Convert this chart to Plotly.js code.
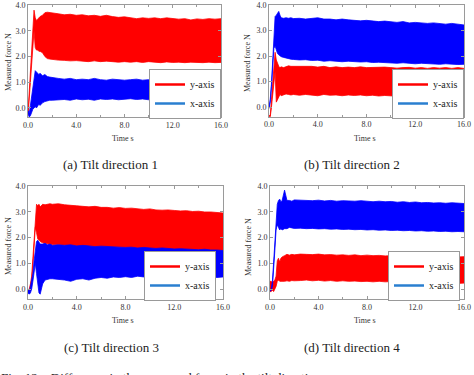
<!DOCTYPE html>
<html>
<head>
<meta charset="utf-8">
<script src="https://cdn.plot.ly/plotly-3.0.1.min.js"></script>
<style>html,body{margin:0;padding:0;background:#fff;}#chart{width:474px;height:375px;}</style>
</head>
<body>
<div id="chart"></div>
<script>
// Time grid (s)
const T = [0,0.1,0.2,0.3,0.4,0.5,0.6,0.7,0.8,0.9,1.0,1.2,1.4,1.6,1.8,2.0,
  2.5,3.0,3.5,4.0,4.5,5.0,5.5,6.0,6.5,7.0,7.5,8.0,8.5,9.0,9.5,10.0,10.5,11.0,11.5,12.0,12.5,13.0,13.5,14.0,14.5,15.0,15.5,16.0];

// Envelope (upper / lower) of the measured force, N
// (a) Tilt direction 1
const aRedHi = [-0.2,0.6,1.4,2.2,3.0,3.8,3.5,3.4,3.45,3.5,3.55,3.6,3.7,3.72,3.7,3.68,
  3.66,3.62,3.64,3.6,3.62,3.58,3.6,3.56,3.6,3.55,3.52,3.54,3.5,3.47,3.5,3.48,3.5,3.47,3.5,3.48,3.45,3.47,3.42,3.46,3.44,3.47,3.45,3.47];
const aRedLo = [-0.3,0.4,1.2,2.0,2.7,3.0,2.35,2.25,2.25,2.2,2.2,2.15,2.0,1.92,1.9,1.88,
  1.86,1.85,1.83,1.84,1.82,1.8,1.83,1.8,1.82,1.8,1.78,1.8,1.78,1.8,1.77,1.8,1.78,1.76,1.79,1.77,1.78,1.76,1.78,1.77,1.76,1.78,1.76,1.77];
const aBlueHi = [-0.1,-0.2,0.1,0.5,0.9,1.2,1.45,1.4,1.35,1.3,1.35,1.25,1.3,1.22,1.2,1.18,
  1.15,1.12,1.15,1.1,1.12,1.1,1.15,1.1,1.08,1.12,1.1,1.08,1.1,1.12,1.08,1.1,1.05,1.1,1.08,1.05,1.08,1.05,1.1,1.05,1.08,1.05,1.05,1.08];
const aBlueLo = [-0.2,-0.35,-0.3,-0.15,-0.05,0.0,0.05,0.0,0.1,0.15,0.1,0.2,0.25,0.28,0.3,0.3,
  0.32,0.33,0.3,0.35,0.32,0.34,0.3,0.35,0.33,0.35,0.32,0.34,0.36,0.33,0.35,0.32,0.34,0.36,0.33,0.35,0.3,0.34,0.32,0.35,0.33,0.3,0.34,0.32];
// (b) Tilt direction 2
const bRedHi = [-0.3,-0.35,0.3,1.0,1.7,2.15,1.85,1.7,1.6,1.55,1.58,1.55,1.6,1.62,1.6,1.6,
  1.6,1.58,1.6,1.57,1.6,1.55,1.58,1.55,1.57,1.55,1.58,1.55,1.56,1.55,1.57,1.55,1.53,1.55,1.56,1.53,1.55,1.52,1.55,1.53,1.55,1.52,1.55,1.52];
const bRedLo = [-0.35,-0.38,0.0,0.5,1.0,1.4,0.2,0.3,0.45,0.5,0.45,0.5,0.52,0.5,0.48,0.5,
  0.47,0.5,0.48,0.45,0.5,0.47,0.48,0.45,0.48,0.46,0.48,0.45,0.47,0.44,0.46,0.45,0.43,0.46,0.44,0.45,0.42,0.44,0.43,0.45,0.42,0.43,0.41,0.42];
const bBlueHi = [0.0,0.3,0.9,1.8,2.7,3.55,3.6,3.7,3.75,3.6,3.5,3.48,3.5,3.48,3.5,3.47,
  3.48,3.45,3.48,3.5,3.45,3.45,3.42,3.45,3.42,3.4,3.38,3.4,3.38,3.35,3.37,3.35,3.32,3.35,3.3,3.32,3.3,3.28,3.3,3.27,3.25,3.28,3.25,3.22];
const bBlueLo = [-0.05,0.2,0.8,1.6,2.3,2.4,2.2,2.1,2.05,2.0,1.98,1.95,1.92,1.9,1.88,1.87,
  1.85,1.86,1.83,1.84,1.8,1.82,1.8,1.78,1.8,1.78,1.77,1.78,1.75,1.76,1.75,1.74,1.72,1.74,1.72,1.7,1.72,1.7,1.7,1.68,1.7,1.68,1.67,1.68];
// (c) Tilt direction 3
const cRedHi = [-0.1,0.0,0.2,0.5,1.2,2.0,2.8,3.3,3.25,3.3,3.2,3.3,3.28,3.3,3.32,3.3,
  3.32,3.28,3.25,3.24,3.22,3.2,3.22,3.18,3.18,3.15,3.17,3.14,3.15,3.12,3.1,3.12,3.08,3.07,3.08,3.06,3.04,3.05,3.02,3.03,3.0,3.0,2.98,2.96];
const cRedLo = [-0.15,-0.1,0.0,0.3,0.9,1.7,2.4,2.2,1.95,1.9,1.85,1.8,1.78,1.75,1.75,1.72,
  1.72,1.7,1.7,1.68,1.68,1.66,1.65,1.65,1.64,1.63,1.62,1.62,1.6,1.6,1.59,1.58,1.58,1.57,1.56,1.56,1.55,1.54,1.54,1.53,1.52,1.52,1.5,1.5];
const cBlueHi = [0.0,-0.1,0.1,0.3,0.6,1.1,1.6,1.85,1.9,1.8,1.75,1.75,1.78,1.72,1.75,1.7,
  1.72,1.7,1.72,1.68,1.7,1.68,1.65,1.67,1.65,1.65,1.63,1.62,1.63,1.6,1.62,1.6,1.58,1.6,1.57,1.56,1.57,1.55,1.55,1.53,1.55,1.52,1.52,1.5];
const cBlueLo = [-0.15,-0.2,-0.15,0.0,0.3,0.7,1.0,0.6,0.2,-0.15,-0.2,0.2,0.35,0.38,0.4,0.4,
  0.38,0.35,0.3,0.38,0.4,0.35,0.42,0.45,0.42,0.47,0.45,0.48,0.45,0.5,0.47,0.48,0.5,0.47,0.5,0.48,0.46,0.5,0.48,0.47,0.5,0.48,0.45,0.47];
// (d) Tilt direction 4
const dRedHi = [0.3,0.3,0.25,0.3,0.35,0.5,1.1,1.2,1.05,1.2,1.25,1.3,1.35,1.32,1.35,1.33,
  1.36,1.35,1.34,1.36,1.33,1.34,1.32,1.33,1.31,1.33,1.3,1.32,1.3,1.31,1.29,1.3,1.28,1.3,1.28,1.29,1.27,1.28,1.26,1.28,1.26,1.27,1.25,1.26];
const dRedLo = [-0.1,-0.1,-0.05,-0.1,0.0,0.1,0.3,0.35,0.3,0.3,0.28,0.3,0.32,0.3,0.33,0.32,
  0.33,0.35,0.32,0.34,0.31,0.33,0.3,0.32,0.3,0.31,0.29,0.3,0.28,0.3,0.28,0.29,0.27,0.28,0.26,0.27,0.25,0.26,0.24,0.25,0.23,0.24,0.22,0.23];
const dBlueHi = [-0.05,0.0,0.3,1.0,1.8,2.6,3.3,3.45,3.5,3.4,3.45,3.85,3.45,3.45,3.42,3.47,
  3.46,3.45,3.44,3.46,3.43,3.45,3.42,3.44,3.43,3.42,3.44,3.42,3.4,3.42,3.4,3.41,3.38,3.4,3.37,3.39,3.36,3.37,3.35,3.36,3.34,3.36,3.34,3.33];
const dBlueLo = [-0.1,-0.05,0.1,0.7,1.5,2.3,2.5,2.4,2.3,2.35,2.3,2.35,2.35,2.4,2.38,2.36,
  2.37,2.35,2.36,2.34,2.35,2.33,2.34,2.32,2.33,2.31,2.32,2.3,2.31,2.29,2.3,2.28,2.29,2.27,2.28,2.26,2.27,2.25,2.26,2.24,2.25,2.23,2.24,2.23];

const seriesNames = ["y-axis","x-axis"];
const captions = ["(a) Tilt direction 1","(b) Tilt direction 2","(c) Tilt direction 3","(d) Tilt direction 4"];
const xTickVals = [0,4,8,12,16];
const xTickText = ["0.0","4.0","8.0","12.0","16.0"];
const yTickVals = [0,1,2,3,4];
const yTickText = ["0.0","1.0","2.0","3.0","4.0"];
const yTitle = "Measured force N";
const xTitle = "Time s";
const figCaption = "Fig. 12\u00a0\u00a0\u00a0\u00a0Difference in the measured force in the tilt direction";

const panels = [
  {red:[aRedLo,aRedHi], blue:[aBlueLo,aBlueHi]},
  {red:[bRedLo,bRedHi], blue:[bBlueLo,bBlueHi]},
  {red:[cRedLo,cRedHi], blue:[cBlueLo,cBlueHi]},
  {red:[dRedLo,dRedHi], blue:[dBlueLo,dBlueHi]}
];

// ---- layout geometry (pixels) ----
const W = 474, H = 375;
const px = v => v / W;
const py = v => 1 - v / H;
const boxes = [
  {x0:28, x1:221, y0:5,     y1:117,   yr:[-0.35,4]},
  {x0:269,x1:464, y0:5,     y1:116.7, yr:[-0.37,4]},
  {x0:28, x1:223, y0:186.3, y1:299.3, yr:[-0.4,4]},
  {x0:270,x1:464, y0:186.3, y1:299.3, yr:[-0.4,4]}
];
const legendPos = [
  {r:221, b:119}, {r:464, b:119}, {r:216, b:301}, {r:460, b:301}
];
const capPos = [{x:110,y:165},{x:352,y:165},{x:111,y:347},{x:352,y:347}];
const yTitlePos = [{x:8,y:62},{x:247,y:63},{x:8,y:246},{x:249,y:247}];
const xTitlePos = [{x:123,y:138},{x:365,y:138},{x:123,y:320},{x:365,y:320}];

const RED = "#ff0000", BLUE = "#0000ff", LEG_BLUE = "#2a7fd0";
const serif = '"Liberation Serif", "Times New Roman", Times, serif';

const traces = [];
const layout = {
  width: W, height: H,
  margin: {l:0, r:0, t:0, b:0},
  paper_bgcolor: "#fff", plot_bgcolor: "#fff",
  showlegend: true,
  annotations: [],
  font: {family: serif, color: "#222"}
};

panels.forEach((p, i) => {
  const n = i + 1;
  const xa = n === 1 ? "x" : "x" + n;
  const ya = n === 1 ? "y" : "y" + n;
  const lg = n === 1 ? "legend" : "legend" + n;
  const band = (lo, hi, col) => {
    traces.push({x:T, y:lo, xaxis:xa, yaxis:ya, mode:"lines", line:{color:col, width:0.8},
      showlegend:false, hoverinfo:"skip"});
    traces.push({x:T, y:hi, xaxis:xa, yaxis:ya, mode:"lines", line:{color:col, width:0.8},
      fill:"tonexty", fillcolor:col, showlegend:false, hoverinfo:"skip"});
  };
  band(p.red[0], p.red[1], RED);
  band(p.blue[0], p.blue[1], BLUE);
  // legend entries
  traces.push({x:[null], y:[null], xaxis:xa, yaxis:ya, mode:"lines", name:seriesNames[0],
    line:{color:RED, width:2.5}, legend:lg, showlegend:true});
  traces.push({x:[null], y:[null], xaxis:xa, yaxis:ya, mode:"lines", name:seriesNames[1],
    line:{color:LEG_BLUE, width:2.5}, legend:lg, showlegend:true});

  const b = boxes[i];
  const axCommon = {
    showline:true, linecolor:"#9a9a9a", linewidth:1, mirror:"ticks",
    ticks:"inside", ticklen:3, tickcolor:"#9a9a9a", showgrid:false, zeroline:false,
    tickfont:{family:serif, size:8, color:"#333"}, fixedrange:true
  };
  layout["xaxis" + (n===1?"":n)] = Object.assign({}, axCommon, {
    domain:[px(b.x0), px(b.x1)], range:[0,16], anchor:ya,
    tickmode:"array", tickvals:xTickVals, ticktext:xTickText,
    minor:{tickvals:[2,6,10,14], ticks:"inside", ticklen:2, tickcolor:"#9a9a9a", showgrid:false}
  });
  layout["yaxis" + (n===1?"":n)] = Object.assign({}, axCommon, {
    domain:[py(b.y1), py(b.y0)], range:b.yr, anchor:xa,
    tickmode:"array", tickvals:yTickVals, ticktext:yTickText
  });
  const L = legendPos[i];
  layout[lg] = {
    x:px(L.r), y:py(L.b), xanchor:"right", yanchor:"bottom",
    bgcolor:"#fff", bordercolor:"#999", borderwidth:1, traceorder:"normal",
    font:{family:serif, size:10, color:"#222"}, itemwidth:30, tracegroupgap:0
  };
  layout.annotations.push({text:captions[i], xref:"paper", yref:"paper",
    x:px(capPos[i].x), y:py(capPos[i].y), xanchor:"center", yanchor:"middle",
    showarrow:false, font:{family:serif, size:13, color:"#222"}});
  layout.annotations.push({text:yTitle, xref:"paper", yref:"paper", textangle:-90,
    x:px(yTitlePos[i].x), y:py(yTitlePos[i].y), xanchor:"center", yanchor:"middle",
    showarrow:false, font:{family:serif, size:8, color:"#333"}});
  layout.annotations.push({text:xTitle, xref:"paper", yref:"paper",
    x:px(xTitlePos[i].x), y:py(xTitlePos[i].y), xanchor:"center", yanchor:"middle",
    showarrow:false, font:{family:serif, size:8, color:"#333"}});
});

layout.annotations.push({text:figCaption, xref:"paper", yref:"paper",
  x:px(-1), y:py(377), xanchor:"left", yanchor:"middle", showarrow:false,
  font:{family:serif, size:13, color:"#222"}});

Plotly.newPlot("chart", traces, layout, {displayModeBar:false, staticPlot:true});
</script>
</body>
</html>
